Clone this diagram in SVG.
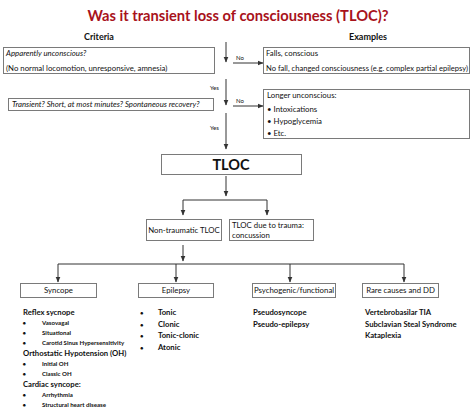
<svg xmlns="http://www.w3.org/2000/svg" width="474" height="416" viewBox="0 0 474 416">
<defs>
<marker id="ah" markerUnits="userSpaceOnUse" markerWidth="6" markerHeight="6" viewBox="0 0 6 6" refX="5.5" refY="3" orient="auto">
<path d="M0,0.5 L6,3 L0,5.5 Z" fill="#333"/>
</marker>
<style>
text{font-family:Lato,"Open Sans","Liberation Sans",sans-serif;fill:#111}
.box{fill:#fff;stroke:#7a7a7a;stroke-width:1}
.t{font-size:7.8px}
.i{font-size:7.8px;font-style:italic}
.lbl{font-size:6px}
.h{font-size:9px;font-weight:bold}
.b{font-size:7.7px;font-weight:bold}
.s{font-size:6.1px;font-weight:bold}
.c{text-anchor:middle}
.con{fill:none;stroke:#333;stroke-width:1;marker-end:url(#ah)}
.ln{fill:none;stroke:#333;stroke-width:1}
</style>
</defs>
<rect width="474" height="416" fill="#fff"/>
<text x="238" y="21" class="c" style="font-size:15.5px;font-weight:bold;fill:#a8121b" textLength="301" lengthAdjust="spacingAndGlyphs">Was it transient loss of consciousness (TLOC)?</text>
<text x="99" y="39.5" class="c h">Criteria</text>
<text x="368" y="39.5" class="c h">Examples</text>

<g id="connectors">
<path class="con" d="M226,42 V62"/>
<path class="con" d="M226,79 V105"/>
<path class="con" d="M226,113 V149"/>
<path class="con" d="M233,63 H263"/>
<path class="con" d="M233,106 H263"/>
<path class="con" d="M226,176 V196"/>
<path class="ln" d="M183,200 H267"/>
<path class="con" d="M183,200 V215"/>
<path class="con" d="M267,200 V215"/>
<path class="con" d="M183,245 V261"/>
<path class="ln" d="M58,264 H404"/>
<path class="con" d="M58,264 V282"/>
<path class="con" d="M176,264 V282"/>
<path class="con" d="M290,264 V282"/>
<path class="con" d="M404,264 V282"/>
<text x="236" y="60" class="lbl">No</text>
<text x="236" y="103" class="lbl">No</text>
<text x="210" y="90" class="lbl">Yes</text>
<text x="210" y="130" class="lbl">Yes</text>
</g>

<g id="q1">
<rect class="box" x="3.5" y="47.5" width="211" height="26"/>
<text x="6" y="55.5" class="i">Apparently unconscious?</text>
<text x="6" y="71" class="t">(No normal locomotion, unresponsive, amnesia)</text>
</g>
<g id="ex1">
<rect class="box" x="263.5" y="47.5" width="206" height="26"/>
<text x="266" y="55.5" class="t">Falls, conscious</text>
<text x="266" y="71" class="t" textLength="202" lengthAdjust="spacingAndGlyphs">No fall, changed consciousness (e.g. complex partial epilepsy)</text>
</g>
<g id="q2">
<rect class="box" x="8.5" y="98.5" width="205" height="12"/>
<text x="12" y="107.3" class="i">Transient? Short, at most minutes? Spontaneous recovery?</text>
</g>
<g id="ex2">
<rect class="box" x="263.5" y="89.5" width="206" height="49"/>
<text x="267" y="97.5" class="t">Longer unconscious:</text>
<text x="267" y="112" class="t">• Intoxications</text>
<text x="267" y="124" class="t">• Hypoglycemia</text>
<text x="267" y="136" class="t">• Etc.</text>
</g>
<g id="tloc">
<rect class="box" x="161.5" y="154.5" width="140" height="20"/>
<text x="231" y="169.5" class="c" style="font-size:14.5px;font-weight:bold">TLOC</text>
</g>
<g id="nontraumatic">
<rect class="box" x="146.5" y="219.5" width="75" height="21"/>
<text x="184" y="232.5" class="c t">Non-traumatic TLOC</text>
</g>
<g id="trauma">
<rect class="box" x="229.5" y="219.5" width="84" height="21"/>
<text x="232" y="228" class="t">TLOC due to trauma:</text>
<text x="232" y="237.5" class="t">concussion</text>
</g>
<g id="syncope">
<rect class="box" x="20.5" y="283.5" width="76" height="14"/>
<text x="58.5" y="293.2" class="c t">Syncope</text>
<text x="23" y="315" class="b">Reflex sycnope</text>
<text x="22.5" y="325" class="s">•</text><text x="42" y="325" class="s">Vasovagal</text>
<text x="22.5" y="335" class="s">•</text><text x="42" y="335" class="s">Situational</text>
<text x="22.5" y="345" class="s">•</text><text x="42" y="345" class="s">Carotid Sinus Hypersensitivity</text>
<text x="23" y="355.5" class="b">Orthostatic Hypotension (OH)</text>
<text x="22.5" y="366" class="s">•</text><text x="42" y="366" class="s">Initial OH</text>
<text x="22.5" y="376" class="s">•</text><text x="42" y="376" class="s">Classic OH</text>
<text x="23" y="386.5" class="b">Cardiac syncope:</text>
<text x="22.5" y="397" class="s">•</text><text x="42" y="397" class="s">Arrhythmia</text>
<text x="22.5" y="407" class="s">•</text><text x="42" y="407" class="s">Structural heart disease</text>
</g>
<g id="epilepsy">
<rect class="box" x="138.5" y="283.5" width="75" height="14"/>
<text x="176" y="293.2" class="c t">Epilepsy</text>
<text x="140" y="315" class="s">•</text><text x="158" y="315" class="b">Tonic</text>
<text x="140" y="326.5" class="s">•</text><text x="158" y="326.5" class="b">Clonic</text>
<text x="140" y="338" class="s">•</text><text x="158" y="338" class="b">Tonic-clonic</text>
<text x="140" y="349.5" class="s">•</text><text x="158" y="349.5" class="b">Atonic</text>
</g>
<g id="psychogenic">
<rect class="box" x="252.5" y="283.5" width="83" height="14"/>
<text x="294" y="293.2" class="c t">Psychogenic/functional</text>
<text x="253" y="315" class="b">Pseudosyncope</text>
<text x="253" y="326.5" class="b">Pseudo-epilepsy</text>
</g>
<g id="rare">
<rect class="box" x="362.5" y="283.5" width="76" height="14"/>
<text x="400.5" y="293.2" class="c t">Rare causes and DD</text>
<text x="365" y="315" class="b">Vertebrobasilar TIA</text>
<text x="365" y="326.5" class="b">Subclavian Steal Syndrome</text>
<text x="365" y="338" class="b">Kataplexia</text>
</g>
</svg>
